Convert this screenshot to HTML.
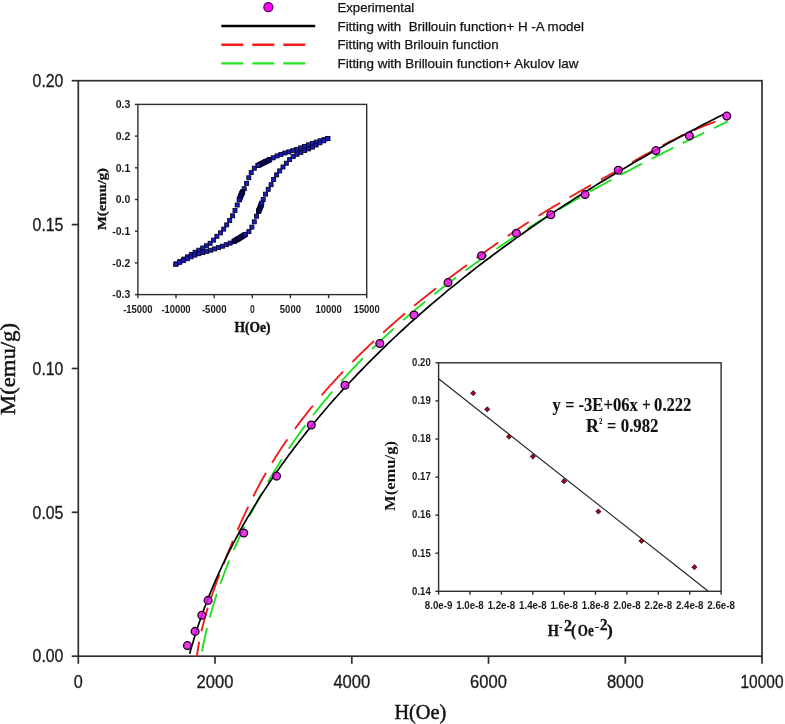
<!DOCTYPE html><html><head><meta charset="utf-8"><title>M vs H</title><style>html,body{margin:0;padding:0;background:#fff;}svg{display:block;}</style></head><body>
<svg width="785" height="724" viewBox="0 0 785 724">
<rect width="785" height="724" fill="#fff"/>
<g font-family="'Liberation Sans', Arial, sans-serif" font-size="13.3" fill="#111" stroke="#111" stroke-width="0.25">
<circle cx="268.4" cy="7.2" r="4.6" fill="#f0f" stroke="#400040" stroke-width="1.1"/>
<line x1="221.3" y1="26" x2="315.2" y2="26" stroke="#000" stroke-width="2.4"/>
<line x1="221.3" y1="44.7" x2="306" y2="44.7" stroke="#f21c1c" stroke-width="2.4" stroke-dasharray="22 9"/>
<line x1="221.3" y1="63.4" x2="306" y2="63.4" stroke="#22e622" stroke-width="2.4" stroke-dasharray="22 9"/>
<text x="337.5" y="12.2" textLength="76.7" lengthAdjust="spacingAndGlyphs" xml:space="preserve">Experimental</text>
<text x="337.5" y="30.5" textLength="246.4" lengthAdjust="spacingAndGlyphs" xml:space="preserve">Fitting with  Brillouin function+ H -A model</text>
<text x="337.5" y="49.4" textLength="161.1" lengthAdjust="spacingAndGlyphs" xml:space="preserve">Fitting with Brilouin function</text>
<text x="337.5" y="67.9" textLength="240.9" lengthAdjust="spacingAndGlyphs" xml:space="preserve">Fitting with Brillouin function+ Akulov law</text>
</g>
<g stroke="#2e2e2e" stroke-width="1.7" fill="none">
<rect x="78.3" y="80.7" width="683.7" height="575.5"/>
<line x1="78.3" y1="656.2" x2="78.3" y2="663.8000000000001"/>
<line x1="215.0" y1="656.2" x2="215.0" y2="663.8000000000001"/>
<line x1="351.8" y1="656.2" x2="351.8" y2="663.8000000000001"/>
<line x1="488.5" y1="656.2" x2="488.5" y2="663.8000000000001"/>
<line x1="625.3" y1="656.2" x2="625.3" y2="663.8000000000001"/>
<line x1="762.0" y1="656.2" x2="762.0" y2="663.8000000000001"/>
<line x1="71.7" y1="656.2" x2="78.3" y2="656.2"/>
<line x1="71.7" y1="512.3" x2="78.3" y2="512.3"/>
<line x1="71.7" y1="368.5" x2="78.3" y2="368.5"/>
<line x1="71.7" y1="224.6" x2="78.3" y2="224.6"/>
<line x1="71.7" y1="80.7" x2="78.3" y2="80.7"/>
</g>
<g font-family="'Liberation Sans', Arial, sans-serif" font-size="17.5" fill="#1a1a1a" stroke="#1a1a1a" stroke-width="0.3" text-anchor="middle">
<text x="78.3" y="687.8" textLength="9.0" lengthAdjust="spacingAndGlyphs">0</text>
<text x="215.0" y="687.8" textLength="36.8" lengthAdjust="spacingAndGlyphs">2000</text>
<text x="351.8" y="687.8" textLength="36.8" lengthAdjust="spacingAndGlyphs">4000</text>
<text x="488.5" y="687.8" textLength="36.8" lengthAdjust="spacingAndGlyphs">6000</text>
<text x="625.3" y="687.8" textLength="36.8" lengthAdjust="spacingAndGlyphs">8000</text>
<text x="762.0" y="687.8" textLength="43.0" lengthAdjust="spacingAndGlyphs">10000</text>
</g>
<g font-family="'Liberation Sans', Arial, sans-serif" font-size="17.5" fill="#1a1a1a" stroke="#1a1a1a" stroke-width="0.3" text-anchor="end">
<text x="63.4" y="662.4" textLength="30.8" lengthAdjust="spacingAndGlyphs">0.00</text>
<text x="63.4" y="518.5" textLength="30.8" lengthAdjust="spacingAndGlyphs">0.05</text>
<text x="63.4" y="374.7" textLength="30.8" lengthAdjust="spacingAndGlyphs">0.10</text>
<text x="63.4" y="230.8" textLength="30.8" lengthAdjust="spacingAndGlyphs">0.15</text>
<text x="63.4" y="86.9" textLength="30.8" lengthAdjust="spacingAndGlyphs">0.20</text>
</g>
<text x="420.4" y="719.3" font-family="'Liberation Serif', 'Times New Roman', serif" font-size="21" fill="#111" stroke="#111" stroke-width="0.45" text-anchor="middle" textLength="52" lengthAdjust="spacingAndGlyphs">H(Oe)</text>
<text transform="translate(15.4,369) rotate(-90)" font-family="'Liberation Serif', 'Times New Roman', serif" font-size="22" fill="#111" stroke="#111" stroke-width="0.45" text-anchor="middle" textLength="92" lengthAdjust="spacingAndGlyphs">M(emu/g)</text>
<path d="M196.8,656.6 L196.9,656.1 L197.0,655.6 L197.0,655.1 L197.1,654.6 L197.2,654.1 L197.2,653.6 L197.3,653.1 L197.4,652.6 L197.4,652.1 L197.5,651.6 L197.6,651.1 L197.7,650.6 L197.7,650.1 L197.8,649.6 L197.9,649.1 L198.0,648.6 L198.1,648.1 L198.1,647.6 L198.2,647.1 L198.3,646.6 L198.4,646.1 L198.5,645.6 L198.6,645.1 L198.7,644.6 L198.7,644.2 L198.8,643.7 L198.9,643.2 L199.0,642.7 L199.1,642.2 L199.2,641.7 M201.4,631.2 L201.6,630.7 L201.7,630.2 L201.8,629.7 L201.9,629.2 L202.0,628.7 L202.1,628.3 L202.3,627.8 L202.4,627.3 L202.5,626.8 L202.6,626.3 L202.8,625.8 L202.9,625.3 L203.0,624.8 L203.1,624.3 L203.3,623.8 L203.4,623.3 L203.5,622.8 L203.7,622.3 L203.8,621.8 L203.9,621.3 L204.1,620.8 L204.2,620.3 L204.3,619.8 L204.5,619.3 L204.6,618.8 L204.7,618.3 L204.9,617.8 L205.0,617.3 L205.2,616.8 L205.3,616.3 L205.4,615.8 L205.6,615.3 L205.7,614.8 L205.9,614.3 L206.0,613.8 L206.2,613.3 L206.3,612.9 L206.4,612.4 L206.6,611.9 L206.7,611.4 L206.9,610.9 L207.0,610.4 L207.2,609.9 L207.3,609.4 L207.5,608.9 L207.6,608.4 L207.8,607.9 M211.2,597.5 L211.3,597.0 L211.5,596.5 L211.7,596.0 L211.8,595.5 L212.0,595.0 L212.2,594.5 L212.3,594.0 L212.5,593.5 L212.7,593.0 L212.8,592.5 L213.0,592.0 L213.2,591.6 L213.4,591.1 L213.5,590.6 L213.7,590.1 L213.9,589.6 L214.1,589.1 L214.2,588.6 L214.4,588.1 L214.6,587.6 L214.8,587.1 L214.9,586.6 L215.1,586.1 L215.3,585.6 L215.5,585.1 L215.7,584.6 L215.8,584.2 L216.0,583.7 L216.2,583.2 L216.4,582.7 L216.6,582.2 L216.7,581.7 L216.9,581.2 L217.1,580.7 L217.3,580.2 L217.5,579.7 L217.7,579.2 L217.8,578.7 L218.0,578.2 L218.2,577.8 L218.4,577.3 L218.6,576.8 L218.8,576.3 L219.0,575.8 L219.1,575.3 L219.3,574.8 L219.5,574.3 M223.5,564.0 L223.7,563.6 L223.9,563.1 L224.1,562.6 L224.3,562.1 L224.5,561.6 L224.7,561.1 L224.9,560.6 L225.1,560.1 L225.3,559.7 L225.5,559.2 L225.7,558.7 L225.9,558.2 L226.1,557.7 L226.2,557.2 L226.4,556.7 L226.6,556.2 L226.8,555.8 L227.0,555.3 L227.2,554.8 L227.4,554.3 L227.6,553.8 L227.8,553.3 L228.0,552.8 L228.2,552.4 L228.4,551.9 L228.6,551.4 L228.8,550.9 L229.0,550.4 L229.2,549.9 L229.4,549.5 L229.6,549.0 L229.8,548.5 L230.0,548.0 L230.2,547.5 L230.4,547.0 L230.6,546.6 L230.8,546.1 L231.0,545.6 L231.2,545.1 L231.4,544.6 L231.6,544.1 L231.8,543.7 L232.0,543.2 L232.2,542.7 L232.4,542.2 L232.6,541.7 L232.8,541.2 L233.0,540.8 M237.5,530.2 L237.7,529.8 L237.9,529.3 L238.1,528.8 L238.3,528.3 L238.5,527.8 L238.7,527.4 L239.0,526.9 L239.2,526.4 L239.4,525.9 L239.6,525.5 L239.8,525.0 L240.0,524.5 L240.2,524.0 L240.4,523.6 L240.6,523.1 L240.8,522.6 L241.1,522.1 L241.3,521.7 L241.5,521.2 L241.7,520.7 L241.9,520.3 L242.1,519.8 L242.3,519.3 L242.5,518.8 L242.8,518.4 L243.0,517.9 L243.2,517.4 L243.4,517.0 L243.6,516.5 L243.8,516.0 L244.1,515.5 L244.3,515.1 L244.5,514.6 L244.7,514.1 L244.9,513.7 L245.1,513.2 L245.4,512.7 L245.6,512.3 L245.8,511.8 L246.0,511.3 L246.2,510.8 L246.5,510.4 L246.7,509.9 L246.9,509.4 L247.1,509.0 L247.3,508.5 L247.6,508.0 L247.8,507.6 L248.0,507.1 L248.2,506.6 M253.2,496.4 L253.5,496.0 L253.7,495.5 L253.9,495.1 L254.2,494.6 L254.4,494.1 L254.7,493.7 L254.9,493.2 L255.1,492.8 L255.4,492.3 L255.6,491.9 L255.8,491.4 L256.1,490.9 L256.3,490.5 L256.5,490.0 L256.8,489.6 L257.0,489.1 L257.3,488.7 L257.5,488.2 L257.8,487.7 L258.0,487.3 L258.2,486.8 L258.5,486.4 L258.7,485.9 L259.0,485.5 L259.2,485.0 L259.5,484.6 L259.7,484.1 L259.9,483.7 L260.2,483.2 L260.4,482.7 L260.7,482.3 L260.9,481.8 L261.2,481.4 L261.4,480.9 L261.7,480.5 L261.9,480.0 L262.2,479.6 L262.4,479.1 L262.7,478.7 L262.9,478.2 L263.2,477.8 L263.4,477.3 L263.7,476.9 L264.0,476.4 L264.2,476.0 L264.5,475.5 L264.7,475.1 L265.0,474.7 L265.2,474.2 L265.5,473.8 L265.7,473.3 L266.0,472.9 M272.1,462.7 L272.4,462.2 L272.6,461.8 L272.9,461.4 L273.2,460.9 L273.4,460.5 L273.7,460.1 L274.0,459.6 L274.3,459.2 L274.5,458.7 L274.8,458.3 L275.1,457.9 L275.4,457.4 L275.6,457.0 L275.9,456.6 L276.2,456.1 L276.5,455.7 L276.8,455.3 L277.0,454.8 L277.3,454.4 L277.6,454.0 L277.9,453.5 L278.2,453.1 L278.4,452.7 L278.7,452.2 L279.0,451.8 L279.3,451.4 L279.6,450.9 L279.8,450.5 L280.1,450.1 L280.4,449.6 L280.7,449.2 L281.0,448.8 L281.3,448.3 L281.6,447.9 L281.8,447.5 L282.1,447.1 L282.4,446.6 L282.7,446.2 L283.0,445.8 L283.3,445.3 L283.6,444.9 L283.9,444.5 L284.2,444.1 L284.4,443.6 L284.7,443.2 L285.0,442.8 L285.3,442.4 L285.6,441.9 L285.9,441.5 L286.2,441.1 L286.5,440.7 L286.8,440.2 L287.1,439.8 L287.4,439.4 M294.9,428.9 L295.2,428.5 L295.5,428.0 L295.8,427.6 L296.1,427.2 L296.4,426.8 L296.7,426.4 L297.1,426.0 L297.4,425.5 L297.7,425.1 L298.0,424.7 L298.3,424.3 L298.6,423.9 L298.9,423.5 L299.2,423.1 L299.5,422.7 L299.9,422.2 L300.2,421.8 L300.5,421.4 L300.8,421.0 L301.1,420.6 L301.4,420.2 L301.7,419.8 L302.1,419.4 L302.4,418.9 L302.7,418.5 L303.0,418.1 L303.3,417.7 L303.6,417.3 L304.0,416.9 L304.3,416.5 L304.6,416.1 L304.9,415.7 L305.2,415.3 L305.6,414.9 L305.9,414.5 L306.2,414.0 L306.5,413.6 L306.8,413.2 L307.2,412.8 L307.5,412.4 L307.8,412.0 L308.1,411.6 L308.5,411.2 L308.8,410.8 L309.1,410.4 L309.4,410.0 L309.8,409.6 L310.1,409.2 L310.4,408.8 L310.7,408.4 L311.1,408.0 L311.4,407.6 L311.7,407.2 L312.0,406.8 L312.4,406.4 L312.7,406.0 L313.0,405.6 M321.7,395.2 L322.0,394.8 L322.4,394.4 L322.7,394.1 L323.1,393.7 L323.4,393.3 L323.7,392.9 L324.1,392.5 L324.4,392.1 L324.8,391.7 L325.1,391.3 L325.4,390.9 L325.8,390.5 L326.1,390.1 L326.5,389.7 L326.8,389.4 L327.2,389.0 L327.5,388.6 L327.8,388.2 L328.2,387.8 L328.5,387.4 L328.9,387.0 L329.2,386.6 L329.6,386.2 L329.9,385.9 L330.3,385.5 L330.6,385.1 L331.0,384.7 L331.3,384.3 L331.7,383.9 L332.0,383.5 L332.4,383.2 L332.7,382.8 L333.1,382.4 L333.4,382.0 L333.8,381.6 L334.1,381.2 L334.5,380.8 L334.8,380.5 L335.2,380.1 L335.5,379.7 L335.9,379.3 L336.2,378.9 L336.6,378.6 L336.9,378.2 L337.3,377.8 L337.6,377.4 L338.0,377.0 L338.3,376.6 L338.7,376.3 L339.0,375.9 L339.4,375.5 L339.8,375.1 L340.1,374.7 L340.5,374.4 L340.8,374.0 L341.2,373.6 L341.5,373.2 L341.9,372.8 L342.3,372.5 L342.6,372.1 L343.0,371.7 M352.4,362.0 L352.7,361.6 L353.1,361.3 L353.5,360.9 L353.8,360.5 L354.2,360.1 L354.6,359.8 L354.9,359.4 L355.3,359.0 L355.7,358.7 L356.0,358.3 L356.4,357.9 L356.8,357.6 L357.2,357.2 L357.5,356.8 L357.9,356.5 L358.3,356.1 L358.6,355.7 L359.0,355.4 L359.4,355.0 L359.7,354.6 L360.1,354.3 L360.5,353.9 L360.9,353.5 L361.2,353.2 L361.6,352.8 L362.0,352.5 L362.4,352.1 L362.7,351.7 L363.1,351.4 L363.5,351.0 L363.8,350.6 L364.2,350.3 L364.6,349.9 L365.0,349.6 L365.3,349.2 L365.7,348.8 L366.1,348.5 L366.5,348.1 L366.8,347.8 L367.2,347.4 L367.6,347.0 L368.0,346.7 L368.3,346.3 L368.7,346.0 L369.1,345.6 L369.5,345.2 L369.9,344.9 L370.2,344.5 L370.6,344.2 L371.0,343.8 L371.4,343.5 L371.7,343.1 L372.1,342.7 L372.5,342.4 L372.9,342.0 L373.3,341.7 L373.6,341.3 L374.0,341.0 M383.2,332.5 L383.6,332.2 L384.0,331.8 L384.4,331.5 L384.8,331.1 L385.1,330.8 L385.5,330.4 L385.9,330.1 L386.3,329.7 L386.7,329.4 L387.1,329.0 L387.5,328.7 L387.9,328.4 L388.2,328.0 L388.6,327.7 L389.0,327.3 L389.4,327.0 L389.8,326.6 L390.2,326.3 L390.6,325.9 L391.0,325.6 L391.4,325.3 L391.7,324.9 L392.1,324.6 L392.5,324.2 L392.9,323.9 L393.3,323.5 L393.7,323.2 L394.1,322.9 L394.5,322.5 L394.9,322.2 L395.3,321.8 L395.7,321.5 L396.0,321.2 L396.4,320.8 L396.8,320.5 L397.2,320.1 L397.6,319.8 L398.0,319.5 L398.4,319.1 L398.8,318.8 L399.2,318.4 L399.6,318.1 L400.0,317.8 L400.4,317.4 L400.8,317.1 L401.2,316.8 L401.5,316.4 L401.9,316.1 L402.3,315.7 L402.7,315.4 L403.1,315.1 L403.5,314.7 L403.9,314.4 L404.3,314.1 L404.7,313.7 L405.1,313.4 M414.2,305.8 L414.6,305.4 L415.0,305.1 L415.4,304.8 L415.8,304.5 L416.2,304.1 L416.6,303.8 L417.0,303.5 L417.4,303.1 L417.8,302.8 L418.2,302.5 L418.6,302.2 L419.0,301.8 L419.4,301.5 L419.8,301.2 L420.2,300.9 L420.6,300.5 L421.0,300.2 L421.4,299.9 L421.9,299.6 L422.3,299.2 L422.7,298.9 L423.1,298.6 L423.5,298.3 L423.9,297.9 L424.3,297.6 L424.7,297.3 L425.1,297.0 L425.5,296.7 L425.9,296.3 L426.3,296.0 L426.7,295.7 L427.1,295.4 L427.5,295.0 L427.9,294.7 L428.3,294.4 L428.7,294.1 L429.1,293.8 L429.5,293.4 L429.9,293.1 L430.3,292.8 L430.7,292.5 L431.1,292.2 L431.5,291.8 L432.0,291.5 L432.4,291.2 L432.8,290.9 L433.2,290.6 L433.6,290.2 L434.0,289.9 L434.4,289.6 L434.8,289.3 L435.2,289.0 L435.6,288.6 L436.0,288.3 M445.4,281.1 L445.8,280.8 L446.2,280.4 L446.7,280.1 L447.1,279.8 L447.5,279.5 L447.9,279.2 L448.3,278.9 L448.7,278.6 L449.1,278.3 L449.5,277.9 L449.9,277.6 L450.4,277.3 L450.8,277.0 L451.2,276.7 L451.6,276.4 L452.0,276.1 L452.4,275.8 L452.8,275.4 L453.3,275.1 L453.7,274.8 L454.1,274.5 L454.5,274.2 L454.9,273.9 L455.3,273.6 L455.7,273.3 L456.1,273.0 L456.6,272.7 L457.0,272.3 L457.4,272.0 L457.8,271.7 L458.2,271.4 L458.6,271.1 L459.1,270.8 L459.5,270.5 L459.9,270.2 L460.3,269.9 L460.7,269.6 L461.1,269.3 L461.5,268.9 L462.0,268.6 L462.4,268.3 L462.8,268.0 L463.2,267.7 L463.6,267.4 L464.0,267.1 L464.5,266.8 L464.9,266.5 L465.3,266.2 L465.7,265.9 L466.1,265.6 L466.5,265.3 L467.0,264.9 M476.6,257.9 L477.0,257.6 L477.5,257.3 L477.9,257.0 L478.3,256.7 L478.7,256.4 L479.1,256.1 L479.6,255.8 L480.0,255.5 L480.4,255.2 L480.8,254.9 L481.3,254.6 L481.7,254.3 L482.1,254.0 L482.5,253.7 L482.9,253.4 L483.4,253.1 L483.8,252.7 L484.2,252.4 L484.6,252.1 L485.1,251.8 L485.5,251.5 L485.9,251.2 L486.3,250.9 L486.8,250.6 L487.2,250.3 L487.6,250.0 L488.0,249.7 L488.5,249.4 L488.9,249.1 L489.3,248.8 L489.7,248.5 L490.1,248.2 L490.6,247.9 L491.0,247.6 L491.4,247.3 L491.9,247.0 L492.3,246.7 L492.7,246.4 L493.1,246.1 L493.6,245.8 L494.0,245.5 L494.4,245.2 L494.8,244.9 L495.3,244.6 L495.7,244.3 L496.1,244.0 L496.5,243.7 L497.0,243.4 L497.4,243.1 L497.8,242.8 L498.2,242.5 M507.7,236.0 L508.1,235.7 L508.5,235.4 L509.0,235.1 L509.4,234.8 L509.8,234.5 L510.3,234.3 L510.7,234.0 L511.1,233.7 L511.6,233.4 L512.0,233.1 L512.4,232.8 L512.9,232.5 L513.3,232.2 L513.7,231.9 L514.2,231.6 L514.6,231.3 L515.0,231.0 L515.4,230.8 L515.9,230.5 L516.3,230.2 L516.7,229.9 L517.2,229.6 L517.6,229.3 L518.0,229.0 L518.5,228.7 L518.9,228.4 L519.3,228.2 L519.8,227.9 L520.2,227.6 L520.6,227.3 L521.1,227.0 L521.5,226.7 L521.9,226.4 L522.4,226.2 L522.8,225.9 L523.2,225.6 L523.7,225.3 L524.1,225.0 L524.6,224.7 L525.0,224.4 L525.4,224.2 L525.9,223.9 L526.3,223.6 L526.7,223.3 L527.2,223.0 L527.6,222.8 L528.0,222.5 L528.5,222.2 L528.9,221.9 M538.5,215.8 L539.0,215.5 L539.4,215.3 L539.8,215.0 L540.3,214.7 L540.7,214.4 L541.2,214.2 L541.6,213.9 L542.0,213.6 L542.5,213.3 L542.9,213.1 L543.4,212.8 L543.8,212.5 L544.2,212.3 L544.7,212.0 L545.1,211.7 L545.6,211.5 L546.0,211.2 L546.4,210.9 L546.9,210.7 L547.3,210.4 L547.8,210.1 L548.2,209.9 L548.6,209.6 L549.1,209.3 L549.5,209.1 L550.0,208.8 L550.4,208.5 L550.8,208.3 L551.3,208.0 L551.7,207.7 L552.2,207.5 L552.6,207.2 L553.0,206.9 L553.5,206.7 L553.9,206.4 L554.4,206.1 L554.8,205.9 L555.3,205.6 L555.7,205.4 L556.1,205.1 L556.6,204.8 L557.0,204.6 L557.5,204.3 L557.9,204.0 L558.4,203.8 L558.8,203.5 L559.2,203.3 L559.7,203.0 L560.1,202.7 M569.5,197.3 L569.9,197.1 L570.4,196.8 L570.8,196.6 L571.3,196.3 L571.7,196.1 L572.1,195.8 L572.6,195.5 L573.0,195.3 L573.5,195.0 L573.9,194.8 L574.4,194.5 L574.8,194.3 L575.3,194.0 L575.7,193.8 L576.2,193.5 L576.6,193.3 L577.1,193.0 L577.5,192.7 L578.0,192.5 L578.4,192.2 L578.9,192.0 L579.3,191.7 L579.8,191.5 L580.2,191.2 L580.6,191.0 L581.1,190.7 L581.5,190.5 L582.0,190.2 L582.4,190.0 L582.9,189.7 L583.3,189.5 L583.8,189.2 L584.2,189.0 L584.7,188.7 L585.1,188.4 L585.6,188.2 L586.0,187.9 L586.5,187.7 L586.9,187.4 L587.4,187.2 L587.8,186.9 L588.3,186.7 L588.7,186.4 L589.2,186.2 L589.6,185.9 L590.1,185.7 L590.5,185.4 L591.0,185.2 M600.9,179.6 L601.4,179.4 L601.8,179.1 L602.3,178.9 L602.7,178.6 L603.2,178.4 L603.6,178.1 L604.1,177.9 L604.5,177.6 L605.0,177.4 L605.4,177.1 L605.9,176.9 L606.3,176.6 L606.8,176.4 L607.3,176.1 L607.7,175.9 L608.2,175.6 L608.6,175.3 L609.1,175.1 L609.5,174.8 L610.0,174.6 L610.4,174.3 L610.9,174.1 L611.3,173.8 L611.8,173.6 L612.3,173.3 L612.7,173.1 L613.2,172.8 L613.6,172.6 L614.1,172.3 L614.5,172.1 L615.0,171.8 L615.4,171.5 L615.9,171.3 L616.3,171.0 L616.8,170.8 L617.3,170.5 L617.7,170.3 L618.2,170.0 L618.6,169.8 L619.1,169.5 L619.5,169.2 L620.0,169.0 L620.4,168.7 L620.9,168.5 L621.4,168.2 L621.8,168.0 L622.3,167.7 M631.9,162.3 L632.3,162.0 L632.8,161.8 L633.3,161.5 L633.7,161.3 L634.2,161.0 L634.6,160.8 L635.1,160.5 L635.5,160.2 L636.0,160.0 L636.5,159.7 L636.9,159.5 L637.4,159.2 L637.8,159.0 L638.3,158.7 L638.8,158.4 L639.2,158.2 L639.7,157.9 L640.1,157.7 L640.6,157.4 L641.1,157.2 L641.5,156.9 L642.0,156.6 L642.4,156.4 L642.9,156.1 L643.4,155.9 L643.8,155.6 L644.3,155.4 L644.7,155.1 L645.2,154.8 L645.7,154.6 L646.1,154.3 L646.6,154.1 L647.0,153.8 L647.5,153.6 L648.0,153.3 L648.4,153.1 L648.9,152.8 L649.3,152.6 L649.8,152.3 L650.3,152.1 L650.7,151.8 L651.2,151.5 L651.7,151.3 L652.1,151.0 L652.6,150.8 L653.0,150.5 L653.5,150.3 M662.7,145.3 L663.2,145.1 L663.7,144.8 L664.1,144.6 L664.6,144.4 L665.1,144.1 L665.5,143.9 L666.0,143.6 L666.5,143.4 L666.9,143.2 L667.4,142.9 L667.8,142.7 L668.3,142.4 L668.8,142.2 L669.2,142.0 L669.7,141.7 L670.2,141.5 L670.6,141.2 L671.1,141.0 L671.6,140.8 L672.0,140.5 L672.5,140.3 L673.0,140.1 L673.4,139.8 L673.9,139.6 L674.3,139.4 L674.8,139.1 L675.3,138.9 L675.7,138.7 L676.2,138.4 L676.7,138.2 L677.1,138.0 L677.6,137.8 L678.1,137.5 L678.5,137.3 L679.0,137.1 L679.5,136.8 L679.9,136.6 L680.4,136.4 L680.9,136.2 L681.3,135.9 L681.8,135.7 L682.3,135.5 L682.7,135.3 L683.2,135.1 L683.7,134.8 L684.1,134.6 M693.9,130.2 L694.4,130.0 L694.9,129.8 L695.3,129.5 L695.8,129.3 L696.3,129.1 L696.7,128.9 L697.2,128.7 L697.7,128.5 L698.1,128.4 L698.6,128.2 L699.1,128.0 L699.5,127.8 L700.0,127.6 L700.5,127.4 L700.9,127.2 L701.4,127.0 L701.9,126.8 L702.4,126.6 L702.8,126.4 L703.3,126.2 L703.8,126.0 L704.2,125.9 L704.7,125.7 L705.2,125.5 L705.6,125.3 L706.1,125.1 L706.6,124.9 L707.0,124.8 L707.5,124.6 L708.0,124.4 L708.5,124.2 L708.9,124.0 L709.4,123.9 L709.9,123.7 L710.3,123.5 L710.8,123.4 L711.3,123.2 L711.7,123.0 L712.2,122.8 L712.7,122.7 L713.1,122.5 L713.6,122.3 L714.1,122.2 L714.6,122.0 L715.0,121.8 L715.5,121.7" fill="none" stroke="#ee1c1c" stroke-width="1.9"/>
<path d="M202.1,651.4 L202.1,650.9 L202.2,650.4 L202.3,649.9 L202.4,649.4 L202.5,648.9 L202.6,648.3 L202.7,647.8 L202.8,647.3 L202.9,646.8 L203.0,646.3 L203.1,645.8 L203.2,645.3 L203.3,644.8 L203.4,644.3 L203.5,643.7 L203.6,643.2 L203.7,642.7 L203.8,642.2 L203.9,641.7 L204.0,641.2 L204.1,640.7 L204.2,640.2 L204.3,639.7 L204.4,639.1 L204.6,638.6 L204.7,638.1 L204.8,637.6 L204.9,637.1 L205.0,636.6 L205.1,636.1 L205.2,635.6 L205.3,635.1 L205.4,634.6 L205.6,634.1 L205.7,633.6 L205.8,633.0 L205.9,632.5 L206.0,632.0 L206.1,631.5 L206.3,631.0 L206.4,630.5 L206.5,630.0 L206.6,629.5 L206.7,629.0 L206.9,628.5 L207.0,628.0 M209.7,617.4 L209.9,616.9 L210.0,616.4 L210.1,615.9 L210.3,615.3 L210.4,614.8 L210.6,614.3 L210.7,613.8 L210.9,613.3 L211.0,612.8 L211.1,612.3 L211.3,611.8 L211.4,611.3 L211.6,610.8 L211.7,610.3 L211.9,609.8 L212.0,609.3 L212.2,608.8 L212.3,608.3 L212.5,607.8 L212.6,607.3 L212.8,606.8 L212.9,606.3 L213.1,605.8 L213.2,605.3 L213.4,604.8 L213.5,604.3 L213.7,603.8 L213.8,603.3 L214.0,602.8 L214.1,602.3 L214.3,601.8 L214.4,601.3 L214.6,600.8 L214.8,600.3 L214.9,599.8 L215.1,599.3 L215.2,598.8 L215.4,598.3 L215.6,597.8 L215.7,597.3 L215.9,596.8 L216.0,596.3 L216.2,595.9 L216.4,595.4 L216.5,594.9 L216.7,594.4 L216.9,593.9 M220.3,584.0 L220.5,583.5 L220.6,583.0 L220.8,582.5 L221.0,582.0 L221.2,581.5 L221.3,581.0 L221.5,580.5 L221.7,580.0 L221.9,579.5 L222.1,579.1 L222.2,578.6 L222.4,578.1 L222.6,577.6 L222.8,577.1 L223.0,576.6 L223.2,576.1 L223.3,575.6 L223.5,575.1 L223.7,574.6 L223.9,574.1 L224.1,573.7 L224.3,573.2 L224.5,572.7 L224.6,572.2 L224.8,571.7 L225.0,571.2 L225.2,570.7 L225.4,570.2 L225.6,569.7 L225.8,569.3 L226.0,568.8 L226.2,568.3 L226.4,567.8 L226.5,567.3 L226.7,566.8 L226.9,566.3 L227.1,565.8 L227.3,565.4 L227.5,564.9 L227.7,564.4 L227.9,563.9 L228.1,563.4 L228.3,562.9 L228.5,562.4 L228.7,562.0 L228.9,561.5 L229.1,561.0 L229.3,560.5 M233.8,549.9 L234.0,549.4 L234.2,548.9 L234.4,548.4 L234.6,548.0 L234.8,547.5 L235.0,547.0 L235.2,546.5 L235.4,546.1 L235.7,545.6 L235.9,545.1 L236.1,544.6 L236.3,544.1 L236.5,543.7 L236.7,543.2 L236.9,542.7 L237.1,542.2 L237.4,541.7 L237.6,541.3 L237.8,540.8 L238.0,540.3 L238.2,539.8 L238.4,539.4 L238.7,538.9 L238.9,538.4 L239.1,537.9 L239.3,537.5 L239.5,537.0 L239.7,536.5 L240.0,536.0 L240.2,535.6 L240.4,535.1 L240.6,534.6 L240.8,534.1 L241.1,533.7 L241.3,533.2 L241.5,532.7 L241.7,532.2 L241.9,531.8 L242.2,531.3 L242.4,530.8 L242.6,530.3 L242.8,529.9 L243.1,529.4 L243.3,528.9 L243.5,528.5 L243.7,528.0 L244.0,527.5 L244.2,527.0 L244.4,526.6 M249.5,516.3 L249.7,515.8 L249.9,515.3 L250.2,514.9 L250.4,514.4 L250.6,513.9 L250.9,513.5 L251.1,513.0 L251.4,512.5 L251.6,512.1 L251.8,511.6 L252.1,511.1 L252.3,510.7 L252.5,510.2 L252.8,509.7 L253.0,509.3 L253.3,508.8 L253.5,508.4 L253.7,507.9 L254.0,507.4 L254.2,507.0 L254.5,506.5 L254.7,506.0 L254.9,505.6 L255.2,505.1 L255.4,504.7 L255.7,504.2 L255.9,503.7 L256.2,503.3 L256.4,502.8 L256.7,502.4 L256.9,501.9 L257.1,501.4 L257.4,501.0 L257.6,500.5 L257.9,500.1 L258.1,499.6 L258.4,499.1 L258.6,498.7 L258.9,498.2 L259.1,497.8 L259.4,497.3 L259.6,496.9 L259.9,496.4 L260.1,495.9 L260.4,495.5 L260.6,495.0 L260.9,494.6 L261.1,494.1 L261.4,493.7 L261.6,493.2 L261.9,492.7 M267.8,482.3 L268.1,481.9 L268.3,481.4 L268.6,481.0 L268.8,480.5 L269.1,480.1 L269.4,479.6 L269.6,479.2 L269.9,478.7 L270.2,478.3 L270.4,477.8 L270.7,477.4 L271.0,476.9 L271.2,476.5 L271.5,476.0 L271.8,475.6 L272.0,475.1 L272.3,474.7 L272.6,474.3 L272.8,473.8 L273.1,473.4 L273.4,472.9 L273.6,472.5 L273.9,472.0 L274.2,471.6 L274.5,471.1 L274.7,470.7 L275.0,470.2 L275.3,469.8 L275.5,469.4 L275.8,468.9 L276.1,468.5 L276.4,468.0 L276.6,467.6 L276.9,467.1 L277.2,466.7 L277.5,466.3 L277.7,465.8 L278.0,465.4 L278.3,464.9 L278.6,464.5 L278.8,464.1 L279.1,463.6 L279.4,463.2 L279.7,462.7 L279.9,462.3 L280.2,461.9 L280.5,461.4 L280.8,461.0 L281.1,460.5 L281.3,460.1 L281.6,459.7 L281.9,459.2 M288.8,448.8 L289.1,448.3 L289.3,447.9 L289.6,447.5 L289.9,447.1 L290.2,446.6 L290.5,446.2 L290.8,445.8 L291.1,445.3 L291.4,444.9 L291.7,444.5 L292.0,444.0 L292.3,443.6 L292.6,443.2 L292.9,442.8 L293.2,442.3 L293.5,441.9 L293.8,441.5 L294.1,441.0 L294.4,440.6 L294.6,440.2 L294.9,439.8 L295.2,439.3 L295.5,438.9 L295.8,438.5 L296.1,438.1 L296.4,437.6 L296.7,437.2 L297.0,436.8 L297.3,436.4 L297.6,435.9 L297.9,435.5 L298.3,435.1 L298.6,434.7 L298.9,434.2 L299.2,433.8 L299.5,433.4 L299.8,433.0 L300.1,432.5 L300.4,432.1 L300.7,431.7 L301.0,431.3 L301.3,430.9 L301.6,430.4 L301.9,430.0 L302.2,429.6 L302.5,429.2 L302.8,428.7 L303.1,428.3 L303.4,427.9 L303.8,427.5 L304.1,427.1 L304.4,426.7 L304.7,426.2 L305.0,425.8 L305.3,425.4 M313.2,415.0 L313.5,414.6 L313.8,414.2 L314.2,413.8 L314.5,413.4 L314.8,413.0 L315.1,412.6 L315.4,412.1 L315.8,411.7 L316.1,411.3 L316.4,410.9 L316.7,410.5 L317.1,410.1 L317.4,409.7 L317.7,409.3 L318.0,408.9 L318.4,408.5 L318.7,408.1 L319.0,407.7 L319.3,407.3 L319.7,406.8 L320.0,406.4 L320.3,406.0 L320.6,405.6 L321.0,405.2 L321.3,404.8 L321.6,404.4 L322.0,404.0 L322.3,403.6 L322.6,403.2 L322.9,402.8 L323.3,402.4 L323.6,402.0 L323.9,401.6 L324.3,401.2 L324.6,400.8 L324.9,400.4 L325.3,400.0 L325.6,399.6 L325.9,399.2 L326.3,398.8 L326.6,398.4 L326.9,398.0 L327.3,397.6 L327.6,397.2 L327.9,396.8 L328.3,396.4 L328.6,396.0 L328.9,395.6 L329.3,395.2 L329.6,394.8 L330.0,394.4 L330.3,394.0 L330.6,393.6 L331.0,393.2 L331.3,392.8 L331.6,392.4 L332.0,392.0 L332.3,391.6 M341.3,381.4 L341.6,381.0 L341.9,380.6 L342.3,380.2 L342.6,379.8 L343.0,379.4 L343.3,379.1 L343.7,378.7 L344.0,378.3 L344.4,377.9 L344.7,377.5 L345.1,377.1 L345.4,376.7 L345.8,376.3 L346.1,376.0 L346.5,375.6 L346.9,375.2 L347.2,374.8 L347.6,374.4 L347.9,374.0 L348.3,373.7 L348.6,373.3 L349.0,372.9 L349.3,372.5 L349.7,372.1 L350.0,371.7 L350.4,371.4 L350.7,371.0 L351.1,370.6 L351.5,370.2 L351.8,369.8 L352.2,369.4 L352.5,369.1 L352.9,368.7 L353.2,368.3 L353.6,367.9 L354.0,367.5 L354.3,367.2 L354.7,366.8 L355.0,366.4 L355.4,366.0 L355.8,365.7 L356.1,365.3 L356.5,364.9 L356.8,364.5 L357.2,364.1 L357.6,363.8 L357.9,363.4 L358.3,363.0 L358.6,362.6 L359.0,362.3 L359.4,361.9 L359.7,361.5 L360.1,361.1 L360.5,360.8 L360.8,360.4 L361.2,360.0 L361.5,359.6 L361.9,359.3 L362.3,358.9 L362.6,358.5 L363.0,358.1 M372.2,348.9 L372.6,348.6 L373.0,348.2 L373.3,347.8 L373.7,347.5 L374.1,347.1 L374.5,346.7 L374.8,346.4 L375.2,346.0 L375.6,345.6 L376.0,345.3 L376.3,344.9 L376.7,344.5 L377.1,344.2 L377.5,343.8 L377.8,343.5 L378.2,343.1 L378.6,342.7 L379.0,342.4 L379.3,342.0 L379.7,341.7 L380.1,341.3 L380.5,340.9 L380.9,340.6 L381.2,340.2 L381.6,339.9 L382.0,339.5 L382.4,339.1 L382.8,338.8 L383.1,338.4 L383.5,338.1 L383.9,337.7 L384.3,337.4 L384.7,337.0 L385.0,336.6 L385.4,336.3 L385.8,335.9 L386.2,335.6 L386.6,335.2 L386.9,334.9 L387.3,334.5 L387.7,334.1 L388.1,333.8 L388.5,333.4 L388.9,333.1 L389.2,332.7 L389.6,332.4 L390.0,332.0 L390.4,331.7 L390.8,331.3 L391.2,331.0 L391.5,330.6 L391.9,330.3 L392.3,329.9 L392.7,329.6 L393.1,329.2 L393.5,328.9 L393.9,328.5 M403.2,320.2 L403.6,319.8 L404.0,319.5 L404.4,319.1 L404.8,318.8 L405.2,318.5 L405.6,318.1 L406.0,317.8 L406.4,317.4 L406.7,317.1 L407.1,316.7 L407.5,316.4 L407.9,316.1 L408.3,315.7 L408.7,315.4 L409.1,315.0 L409.5,314.7 L409.9,314.4 L410.3,314.0 L410.7,313.7 L411.1,313.3 L411.5,313.0 L411.9,312.7 L412.3,312.3 L412.7,312.0 L413.1,311.6 L413.5,311.3 L413.9,311.0 L414.3,310.6 L414.7,310.3 L415.1,310.0 L415.5,309.6 L415.9,309.3 L416.3,308.9 L416.7,308.6 L417.1,308.3 L417.5,307.9 L417.9,307.6 L418.3,307.3 L418.7,306.9 L419.1,306.6 L419.5,306.3 L419.9,305.9 L420.3,305.6 L420.7,305.3 L421.1,304.9 L421.5,304.6 L421.9,304.3 L422.3,303.9 L422.7,303.6 L423.1,303.3 L423.5,302.9 L423.9,302.6 L424.3,302.3 L424.7,301.9 L425.1,301.6 M434.4,294.1 L434.9,293.8 L435.3,293.4 L435.7,293.1 L436.1,292.8 L436.5,292.5 L436.9,292.1 L437.3,291.8 L437.7,291.5 L438.1,291.2 L438.5,290.8 L439.0,290.5 L439.4,290.2 L439.8,289.9 L440.2,289.6 L440.6,289.2 L441.0,288.9 L441.4,288.6 L441.8,288.3 L442.2,288.0 L442.7,287.6 L443.1,287.3 L443.5,287.0 L443.9,286.7 L444.3,286.4 L444.7,286.0 L445.1,285.7 L445.5,285.4 L446.0,285.1 L446.4,284.8 L446.8,284.4 L447.2,284.1 L447.6,283.8 L448.0,283.5 L448.4,283.2 L448.9,282.9 L449.3,282.5 L449.7,282.2 L450.1,281.9 L450.5,281.6 L450.9,281.3 L451.3,281.0 L451.8,280.6 L452.2,280.3 L452.6,280.0 L453.0,279.7 L453.4,279.4 L453.8,279.1 L454.3,278.8 L454.7,278.5 L455.1,278.1 L455.5,277.8 L455.9,277.5 M465.6,270.4 L466.0,270.1 L466.4,269.8 L466.8,269.5 L467.3,269.2 L467.7,268.9 L468.1,268.5 L468.5,268.2 L469.0,267.9 L469.4,267.6 L469.8,267.3 L470.2,267.0 L470.6,266.7 L471.1,266.4 L471.5,266.1 L471.9,265.8 L472.3,265.5 L472.8,265.2 L473.2,264.9 L473.6,264.6 L474.0,264.3 L474.5,264.0 L474.9,263.7 L475.3,263.4 L475.7,263.1 L476.2,262.8 L476.6,262.5 L477.0,262.2 L477.4,261.9 L477.9,261.6 L478.3,261.3 L478.7,261.0 L479.1,260.7 L479.6,260.4 L480.0,260.1 L480.4,259.8 L480.9,259.5 L481.3,259.2 L481.7,258.9 L482.1,258.6 L482.6,258.3 L483.0,258.0 L483.4,257.7 L483.8,257.4 L484.3,257.1 L484.7,256.8 L485.1,256.5 L485.6,256.2 L486.0,255.9 L486.4,255.6 L486.8,255.3 M496.3,248.8 L496.8,248.5 L497.2,248.2 L497.6,248.0 L498.1,247.7 L498.5,247.4 L498.9,247.1 L499.4,246.8 L499.8,246.5 L500.2,246.2 L500.7,245.9 L501.1,245.6 L501.5,245.3 L502.0,245.1 L502.4,244.8 L502.8,244.5 L503.3,244.2 L503.7,243.9 L504.1,243.6 L504.6,243.3 L505.0,243.0 L505.4,242.7 L505.9,242.5 L506.3,242.2 L506.7,241.9 L507.2,241.6 L507.6,241.3 L508.1,241.0 L508.5,240.7 L508.9,240.4 L509.4,240.2 L509.8,239.9 L510.2,239.6 L510.7,239.3 L511.1,239.0 L511.5,238.7 L512.0,238.5 L512.4,238.2 L512.9,237.9 L513.3,237.6 L513.7,237.3 L514.2,237.0 L514.6,236.7 L515.0,236.5 L515.5,236.2 L515.9,235.9 L516.4,235.6 L516.8,235.3 L517.2,235.1 L517.7,234.8 L518.1,234.5 M527.4,228.6 L527.8,228.3 L528.3,228.1 L528.7,227.8 L529.1,227.5 L529.6,227.2 L530.0,226.9 L530.5,226.7 L530.9,226.4 L531.4,226.1 L531.8,225.8 L532.2,225.6 L532.7,225.3 L533.1,225.0 L533.6,224.7 L534.0,224.5 L534.5,224.2 L534.9,223.9 L535.3,223.6 L535.8,223.4 L536.2,223.1 L536.7,222.8 L537.1,222.5 L537.6,222.3 L538.0,222.0 L538.5,221.7 L538.9,221.4 L539.3,221.2 L539.8,220.9 L540.2,220.6 L540.7,220.4 L541.1,220.1 L541.6,219.8 L542.0,219.5 L542.5,219.3 L542.9,219.0 L543.4,218.7 L543.8,218.5 L544.2,218.2 L544.7,217.9 L545.1,217.6 L545.6,217.4 L546.0,217.1 L546.5,216.8 L546.9,216.6 L547.4,216.3 L547.8,216.0 L548.3,215.7 L548.7,215.5 L549.2,215.2 M558.6,209.6 L559.0,209.3 L559.5,209.1 L559.9,208.8 L560.4,208.5 L560.8,208.3 L561.3,208.0 L561.7,207.7 L562.2,207.5 L562.6,207.2 L563.1,206.9 L563.5,206.7 L564.0,206.4 L564.4,206.2 L564.9,205.9 L565.3,205.6 L565.8,205.4 L566.2,205.1 L566.7,204.8 L567.1,204.6 L567.6,204.3 L568.0,204.1 L568.5,203.8 L568.9,203.5 L569.4,203.3 L569.9,203.0 L570.3,202.7 L570.8,202.5 L571.2,202.2 L571.7,202.0 L572.1,201.7 L572.6,201.4 L573.0,201.2 L573.5,200.9 L573.9,200.7 L574.4,200.4 L574.8,200.1 L575.3,199.9 L575.7,199.6 L576.2,199.4 L576.6,199.1 L577.1,198.8 L577.6,198.6 L578.0,198.3 L578.5,198.1 L578.9,197.8 L579.4,197.6 L579.8,197.3 L580.3,197.0 M589.8,191.7 L590.3,191.4 L590.7,191.1 L591.2,190.9 L591.7,190.6 L592.1,190.4 L592.6,190.1 L593.0,189.9 L593.5,189.6 L593.9,189.4 L594.4,189.1 L594.9,188.9 L595.3,188.6 L595.8,188.4 L596.2,188.1 L596.7,187.9 L597.1,187.6 L597.6,187.4 L598.1,187.1 L598.5,186.8 L599.0,186.6 L599.4,186.3 L599.9,186.1 L600.3,185.8 L600.8,185.6 L601.3,185.3 L601.7,185.1 L602.2,184.8 L602.6,184.6 L603.1,184.3 L603.5,184.1 L604.0,183.8 L604.5,183.6 L604.9,183.3 L605.4,183.1 L605.8,182.8 L606.3,182.6 L606.8,182.3 L607.2,182.1 L607.7,181.8 L608.1,181.6 L608.6,181.3 L609.1,181.1 L609.5,180.8 L610.0,180.6 L610.4,180.3 L610.9,180.1 L611.4,179.9 M620.6,174.9 L621.0,174.7 L621.5,174.4 L621.9,174.2 L622.4,173.9 L622.9,173.7 L623.3,173.5 L623.8,173.2 L624.2,173.0 L624.7,172.7 L625.2,172.5 L625.6,172.2 L626.1,172.0 L626.6,171.7 L627.0,171.5 L627.5,171.3 L627.9,171.0 L628.4,170.8 L628.9,170.5 L629.3,170.3 L629.8,170.0 L630.2,169.8 L630.7,169.6 L631.2,169.3 L631.6,169.1 L632.1,168.8 L632.6,168.6 L633.0,168.4 L633.5,168.1 L633.9,167.9 L634.4,167.6 L634.9,167.4 L635.3,167.1 L635.8,166.9 L636.3,166.7 L636.7,166.4 L637.2,166.2 L637.6,165.9 L638.1,165.7 L638.6,165.5 L639.0,165.2 L639.5,165.0 L640.0,164.7 L640.4,164.5 L640.9,164.3 L641.4,164.0 L641.8,163.8 L642.3,163.5 M651.6,158.8 L652.0,158.5 L652.5,158.3 L652.9,158.1 L653.4,157.8 L653.9,157.6 L654.3,157.4 L654.8,157.1 L655.3,156.9 L655.7,156.7 L656.2,156.4 L656.7,156.2 L657.1,155.9 L657.6,155.7 L658.1,155.5 L658.5,155.2 L659.0,155.0 L659.5,154.8 L659.9,154.5 L660.4,154.3 L660.9,154.1 L661.3,153.8 L661.8,153.6 L662.2,153.4 L662.7,153.1 L663.2,152.9 L663.6,152.7 L664.1,152.4 L664.6,152.2 L665.0,152.0 L665.5,151.7 L666.0,151.5 L666.4,151.3 L666.9,151.0 L667.4,150.8 L667.8,150.6 L668.3,150.3 L668.8,150.1 L669.2,149.9 L669.7,149.6 L670.2,149.4 L670.6,149.2 L671.1,148.9 L671.6,148.7 L672.0,148.5 L672.5,148.2 L673.0,148.0 L673.4,147.8 M682.8,143.2 L683.2,142.9 L683.7,142.7 L684.2,142.5 L684.6,142.2 L685.1,142.0 L685.6,141.8 L686.0,141.6 L686.5,141.3 L687.0,141.1 L687.4,140.9 L687.9,140.6 L688.4,140.4 L688.8,140.2 L689.3,140.0 L689.8,139.7 L690.2,139.5 L690.7,139.3 L691.2,139.0 L691.6,138.8 L692.1,138.6 L692.6,138.4 L693.0,138.1 L693.5,137.9 L694.0,137.7 L694.4,137.5 L694.9,137.2 L695.4,137.0 L695.8,136.8 L696.3,136.5 L696.8,136.3 L697.2,136.1 L697.7,135.9 L698.2,135.6 L698.6,135.4 L699.1,135.2 L699.6,135.0 L700.0,134.7 L700.5,134.5 L701.0,134.3 L701.4,134.1 L701.9,133.8 L702.4,133.6 L702.8,133.4 L703.3,133.2 L703.8,132.9 L704.2,132.7 M714.1,128.0 L714.5,127.8 L715.0,127.5 L715.5,127.3 L715.9,127.1 L716.4,126.9 L716.9,126.6 L717.3,126.4 L717.8,126.2 L718.3,126.0 L718.7,125.8 L719.2,125.5 L719.7,125.3 L720.1,125.1 L720.6,124.9 L721.1,124.6 L721.5,124.4 L722.0,124.2 L722.5,124.0 L722.9,123.8 L723.4,123.5 L723.9,123.3 L724.3,123.1 L724.8,122.9 L725.3,122.6 L725.7,122.4 L726.2,122.2 L726.7,122.0 L727.1,121.8 L727.6,121.5" fill="none" stroke="#1ee01e" stroke-width="1.9"/>
<polyline points="189.7,653.7 190.7,649.8 191.8,646.0 193.0,642.2 194.1,638.4 195.3,634.6 196.5,630.8 197.7,627.0 199.0,623.3 200.3,619.5 201.6,615.8 202.9,612.1 204.3,608.3 205.7,604.7 207.1,601.0 208.5,597.3 210.0,593.6 211.5,590.0 213.0,586.4 214.6,582.8 216.1,579.2 217.7,575.6 219.3,572.0 221.0,568.4 222.6,564.9 224.3,561.3 226.0,557.8 227.7,554.3 229.5,550.8 231.3,547.3 233.0,543.8 234.9,540.4 236.7,536.9 238.6,533.5 240.4,530.0 242.3,526.6 244.3,523.2 246.2,519.8 248.2,516.4 250.2,513.1 252.2,509.7 254.2,506.4 256.3,503.1 258.3,499.7 260.4,496.4 262.5,493.1 264.6,489.9 266.8,486.6 268.9,483.3 271.1,480.1 273.3,476.9 275.5,473.6 277.8,470.4 280.0,467.2 282.3,464.1 284.6,460.9 286.9,457.7 289.2,454.6 291.6,451.4 293.9,448.3 296.3,445.2 298.7,442.1 301.1,439.0 303.5,435.9 305.9,432.9 308.4,429.8 310.9,426.8 313.3,423.7 315.8,420.7 318.4,417.7 320.9,414.7 323.4,411.7 326.0,408.7 328.5,405.8 331.1,402.8 333.7,399.9 336.3,397.0 339.0,394.0 341.6,391.1 344.2,388.2 346.9,385.4 349.6,382.5 352.3,379.6 355.0,376.8 357.7,373.9 360.4,371.1 363.1,368.3 365.9,365.5 368.6,362.7 371.4,359.9 374.2,357.1 377.0,354.4 379.8,351.6 382.6,348.9 385.4,346.1 388.2,343.4 391.1,340.7 393.9,338.0 396.8,335.3 399.6,332.6 402.5,330.0 405.4,327.3 408.3,324.7 411.2,322.0 414.2,319.4 417.1,316.8 420.0,314.2 423.0,311.6 425.9,309.0 428.9,306.5 431.9,303.9 434.9,301.3 437.9,298.8 440.9,296.3 443.9,293.8 446.9,291.2 450.0,288.7 453.0,286.3 456.1,283.8 459.1,281.3 462.2,278.8 465.3,276.4 468.3,274.0 471.4,271.5 474.5,269.1 477.6,266.7 480.8,264.3 483.9,261.9 487.0,259.5 490.2,257.2 493.3,254.8 496.5,252.5 499.6,250.1 502.8,247.8 506.0,245.5 509.2,243.2 512.3,240.9 515.5,238.6 518.7,236.3 522.0,234.0 525.2,231.8 528.4,229.5 531.6,227.3 534.9,225.0 538.1,222.8 541.4,220.6 544.6,218.4 547.9,216.2 551.1,214.0 554.4,211.8 557.7,209.6 561.0,207.5 564.3,205.3 567.6,203.2 570.9,201.1 574.2,198.9 577.5,196.8 580.8,194.7 584.1,192.6 587.5,190.5 590.8,188.5 594.1,186.4 597.5,184.3 600.8,182.3 604.2,180.2 607.5,178.2 610.9,176.2 614.2,174.2 617.6,172.2 621.0,170.2 624.4,168.2 627.7,166.2 631.1,164.2 634.5,162.3 637.9,160.3 641.3,158.4 644.7,156.4 648.1,154.5 651.5,152.6 654.9,150.7 658.3,148.8 661.8,146.9 665.2,145.0 668.6,143.1 672.0,141.3 675.4,139.4 678.9,137.5 682.3,135.7 685.7,133.9 689.2,132.0 692.6,130.2 696.1,128.4 699.5,126.6 702.9,124.8 706.4,123.0 709.8,121.2 713.3,119.5 716.7,117.7 720.2,116.0 723.7,114.2" fill="none" stroke="#000" stroke-width="1.7"/>
<circle cx="187.4" cy="645.6" r="3.9" fill="#e414e4" fill-opacity="0.85" stroke="#220022" stroke-width="1.3"/>
<circle cx="195.1" cy="631.4" r="3.9" fill="#e414e4" fill-opacity="0.85" stroke="#220022" stroke-width="1.3"/>
<circle cx="201.8" cy="615.2" r="3.9" fill="#e414e4" fill-opacity="0.85" stroke="#220022" stroke-width="1.3"/>
<circle cx="208.1" cy="600.4" r="3.9" fill="#e414e4" fill-opacity="0.85" stroke="#220022" stroke-width="1.3"/>
<circle cx="243.7" cy="533" r="3.9" fill="#e414e4" fill-opacity="0.85" stroke="#220022" stroke-width="1.3"/>
<circle cx="276.6" cy="476.1" r="3.9" fill="#e414e4" fill-opacity="0.85" stroke="#220022" stroke-width="1.3"/>
<circle cx="311.3" cy="425" r="3.9" fill="#e414e4" fill-opacity="0.85" stroke="#220022" stroke-width="1.3"/>
<circle cx="345" cy="385.2" r="3.9" fill="#e414e4" fill-opacity="0.85" stroke="#220022" stroke-width="1.3"/>
<circle cx="379.8" cy="343.5" r="3.9" fill="#e414e4" fill-opacity="0.85" stroke="#220022" stroke-width="1.3"/>
<circle cx="414" cy="315" r="3.9" fill="#e414e4" fill-opacity="0.85" stroke="#220022" stroke-width="1.3"/>
<circle cx="448" cy="282.6" r="3.9" fill="#e414e4" fill-opacity="0.85" stroke="#220022" stroke-width="1.3"/>
<circle cx="481.6" cy="255.8" r="3.9" fill="#e414e4" fill-opacity="0.85" stroke="#220022" stroke-width="1.3"/>
<circle cx="516.4" cy="233.3" r="3.9" fill="#e414e4" fill-opacity="0.85" stroke="#220022" stroke-width="1.3"/>
<circle cx="550.8" cy="214.8" r="3.9" fill="#e414e4" fill-opacity="0.85" stroke="#220022" stroke-width="1.3"/>
<circle cx="585.1" cy="194.6" r="3.9" fill="#e414e4" fill-opacity="0.85" stroke="#220022" stroke-width="1.3"/>
<circle cx="618.3" cy="170.3" r="3.9" fill="#e414e4" fill-opacity="0.85" stroke="#220022" stroke-width="1.3"/>
<circle cx="655.9" cy="150.6" r="3.9" fill="#e414e4" fill-opacity="0.85" stroke="#220022" stroke-width="1.3"/>
<circle cx="689.4" cy="135.9" r="3.9" fill="#e414e4" fill-opacity="0.85" stroke="#220022" stroke-width="1.3"/>
<circle cx="726.8" cy="116.1" r="3.9" fill="#e414e4" fill-opacity="0.85" stroke="#220022" stroke-width="1.3"/>
<g stroke="#2e2e2e" stroke-width="1.4" fill="none">
<rect x="137.9" y="104.4" width="228.8" height="190.2"/>
<line x1="137.9" y1="294.6" x2="137.9" y2="298.20000000000005"/>
<line x1="134.9" y1="294.6" x2="137.9" y2="294.6"/>
<line x1="176.0" y1="294.6" x2="176.0" y2="298.20000000000005"/>
<line x1="134.9" y1="262.9" x2="137.9" y2="262.9"/>
<line x1="214.2" y1="294.6" x2="214.2" y2="298.20000000000005"/>
<line x1="134.9" y1="231.2" x2="137.9" y2="231.2"/>
<line x1="252.3" y1="294.6" x2="252.3" y2="298.20000000000005"/>
<line x1="134.9" y1="199.5" x2="137.9" y2="199.5"/>
<line x1="290.4" y1="294.6" x2="290.4" y2="298.20000000000005"/>
<line x1="134.9" y1="167.8" x2="137.9" y2="167.8"/>
<line x1="328.6" y1="294.6" x2="328.6" y2="298.20000000000005"/>
<line x1="134.9" y1="136.1" x2="137.9" y2="136.1"/>
<line x1="366.7" y1="294.6" x2="366.7" y2="298.20000000000005"/>
<line x1="134.9" y1="104.4" x2="137.9" y2="104.4"/>
</g>
<g font-family="'Liberation Sans', Arial, sans-serif" font-size="10.5" font-weight="bold" fill="#1a1a1a" text-anchor="middle">
<text x="137.9" y="312.6" textLength="29.5" lengthAdjust="spacingAndGlyphs">-15000</text>
<text x="176.0" y="312.6" textLength="29.2" lengthAdjust="spacingAndGlyphs">-10000</text>
<text x="214.2" y="312.6" textLength="24.6" lengthAdjust="spacingAndGlyphs">-5000</text>
<text x="252.3" y="312.6" textLength="4.8" lengthAdjust="spacingAndGlyphs">0</text>
<text x="290.4" y="312.6" textLength="21.1" lengthAdjust="spacingAndGlyphs">5000</text>
<text x="328.6" y="312.6" textLength="26.3" lengthAdjust="spacingAndGlyphs">10000</text>
<text x="366.7" y="312.6" textLength="26.0" lengthAdjust="spacingAndGlyphs">15000</text>
</g>
<g font-family="'Liberation Sans', Arial, sans-serif" font-size="10.5" font-weight="bold" fill="#1a1a1a" text-anchor="end">
<text x="130.3" y="298.4">-0.3</text>
<text x="130.3" y="266.7">-0.2</text>
<text x="130.3" y="235.0">-0.1</text>
<text x="130.3" y="203.3">0.0</text>
<text x="130.3" y="171.6">0.1</text>
<text x="130.3" y="139.9">0.2</text>
<text x="130.3" y="108.2">0.3</text>
</g>
<text x="252.5" y="332.4" font-family="'Liberation Serif', 'Times New Roman', serif" font-size="14.5" font-weight="bold" fill="#111" stroke="#111" stroke-width="0.4" text-anchor="middle" textLength="36" lengthAdjust="spacingAndGlyphs">H(Oe)</text>
<text transform="translate(106.2,199) rotate(-90)" font-family="'Liberation Serif', 'Times New Roman', serif" font-size="13.5" font-weight="bold" fill="#111" stroke="#111" stroke-width="0.3" text-anchor="middle" textLength="62" lengthAdjust="spacingAndGlyphs">M(emu/g)</text>
<g fill="#1c1cc4" stroke="#05052a" stroke-width="0.9">
<rect x="326.0" y="136.4" width="4" height="4"/>
<rect x="322.1" y="137.6" width="4" height="4"/>
<rect x="318.1" y="138.8" width="4" height="4"/>
<rect x="314.2" y="140.1" width="4" height="4"/>
<rect x="310.3" y="141.4" width="4" height="4"/>
<rect x="306.4" y="142.9" width="4" height="4"/>
<rect x="302.4" y="144.4" width="4" height="4"/>
<rect x="298.6" y="145.9" width="4" height="4"/>
<rect x="294.7" y="147.4" width="4" height="4"/>
<rect x="290.8" y="148.7" width="4" height="4"/>
<rect x="286.8" y="149.9" width="4" height="4"/>
<rect x="282.9" y="151.0" width="4" height="4"/>
<rect x="278.9" y="152.4" width="4" height="4"/>
<rect x="275.1" y="153.9" width="4" height="4"/>
<rect x="271.2" y="155.8" width="4" height="4"/>
<rect x="267.4" y="157.8" width="4" height="4"/>
<rect x="263.6" y="159.7" width="4" height="4"/>
<rect x="259.7" y="161.6" width="4" height="4"/>
<rect x="255.9" y="163.6" width="4" height="4"/>
<rect x="252.3" y="166.2" width="4" height="4"/>
<rect x="249.2" y="170.6" width="4" height="4"/>
<rect x="246.8" y="175.8" width="4" height="4"/>
<rect x="244.6" y="181.4" width="4" height="4"/>
<rect x="242.2" y="186.7" width="4" height="4"/>
<rect x="239.6" y="191.8" width="4" height="4"/>
<rect x="237.4" y="197.4" width="4" height="4"/>
<rect x="235.2" y="203.0" width="4" height="4"/>
<rect x="233.0" y="208.5" width="4" height="4"/>
<rect x="230.6" y="213.8" width="4" height="4"/>
<rect x="227.7" y="218.4" width="4" height="4"/>
<rect x="224.7" y="222.9" width="4" height="4"/>
<rect x="221.7" y="227.1" width="4" height="4"/>
<rect x="218.4" y="230.9" width="4" height="4"/>
<rect x="214.9" y="234.3" width="4" height="4"/>
<rect x="211.6" y="238.1" width="4" height="4"/>
<rect x="208.1" y="241.3" width="4" height="4"/>
<rect x="204.4" y="243.8" width="4" height="4"/>
<rect x="200.7" y="246.0" width="4" height="4"/>
<rect x="196.8" y="248.2" width="4" height="4"/>
<rect x="193.1" y="250.3" width="4" height="4"/>
<rect x="189.3" y="252.6" width="4" height="4"/>
<rect x="185.6" y="254.9" width="4" height="4"/>
<rect x="181.8" y="257.1" width="4" height="4"/>
<rect x="178.0" y="259.4" width="4" height="4"/>
<rect x="174.3" y="261.9" width="4" height="4"/>
<rect x="173.7" y="262.3" width="4" height="4"/>
<rect x="177.6" y="260.4" width="4" height="4"/>
<rect x="181.4" y="258.5" width="4" height="4"/>
<rect x="185.3" y="256.7" width="4" height="4"/>
<rect x="189.1" y="254.8" width="4" height="4"/>
<rect x="192.9" y="253.1" width="4" height="4"/>
<rect x="196.8" y="251.7" width="4" height="4"/>
<rect x="200.8" y="250.5" width="4" height="4"/>
<rect x="204.7" y="249.3" width="4" height="4"/>
<rect x="208.7" y="248.2" width="4" height="4"/>
<rect x="212.6" y="246.9" width="4" height="4"/>
<rect x="216.5" y="245.6" width="4" height="4"/>
<rect x="220.5" y="244.2" width="4" height="4"/>
<rect x="224.3" y="242.7" width="4" height="4"/>
<rect x="228.2" y="241.1" width="4" height="4"/>
<rect x="232.1" y="239.3" width="4" height="4"/>
<rect x="235.8" y="237.1" width="4" height="4"/>
<rect x="239.6" y="234.8" width="4" height="4"/>
<rect x="243.3" y="232.4" width="4" height="4"/>
<rect x="246.9" y="229.6" width="4" height="4"/>
<rect x="249.9" y="225.1" width="4" height="4"/>
<rect x="252.3" y="219.8" width="4" height="4"/>
<rect x="254.5" y="214.2" width="4" height="4"/>
<rect x="256.8" y="208.8" width="4" height="4"/>
<rect x="259.0" y="203.3" width="4" height="4"/>
<rect x="261.2" y="197.6" width="4" height="4"/>
<rect x="263.5" y="192.2" width="4" height="4"/>
<rect x="266.2" y="187.3" width="4" height="4"/>
<rect x="269.1" y="182.7" width="4" height="4"/>
<rect x="271.6" y="177.5" width="4" height="4"/>
<rect x="274.6" y="172.9" width="4" height="4"/>
<rect x="277.7" y="168.9" width="4" height="4"/>
<rect x="281.0" y="165.0" width="4" height="4"/>
<rect x="284.3" y="161.2" width="4" height="4"/>
<rect x="287.6" y="157.6" width="4" height="4"/>
<rect x="291.2" y="154.6" width="4" height="4"/>
<rect x="295.0" y="152.3" width="4" height="4"/>
<rect x="298.8" y="150.4" width="4" height="4"/>
<rect x="302.6" y="148.6" width="4" height="4"/>
<rect x="306.5" y="146.9" width="4" height="4"/>
<rect x="310.4" y="145.1" width="4" height="4"/>
<rect x="314.1" y="143.0" width="4" height="4"/>
<rect x="317.9" y="140.8" width="4" height="4"/>
<rect x="321.7" y="138.8" width="4" height="4"/>
<rect x="325.5" y="136.6" width="4" height="4"/>
<rect x="267.8" y="157.6" width="4" height="4"/>
<rect x="267.0" y="158.1" width="4" height="4"/>
<rect x="266.1" y="158.5" width="4" height="4"/>
<rect x="265.2" y="159.0" width="4" height="4"/>
<rect x="264.2" y="159.4" width="4" height="4"/>
<rect x="263.3" y="159.8" width="4" height="4"/>
<rect x="262.5" y="160.3" width="4" height="4"/>
<rect x="261.6" y="160.7" width="4" height="4"/>
<rect x="260.7" y="161.1" width="4" height="4"/>
<rect x="259.7" y="161.6" width="4" height="4"/>
<rect x="258.9" y="162.0" width="4" height="4"/>
<rect x="258.0" y="162.5" width="4" height="4"/>
<rect x="257.1" y="163.0" width="4" height="4"/>
<rect x="256.2" y="163.5" width="4" height="4"/>
<rect x="232.2" y="239.2" width="4" height="4"/>
<rect x="233.1" y="238.7" width="4" height="4"/>
<rect x="233.9" y="238.2" width="4" height="4"/>
<rect x="234.8" y="237.7" width="4" height="4"/>
<rect x="235.7" y="237.2" width="4" height="4"/>
<rect x="236.5" y="236.7" width="4" height="4"/>
<rect x="237.4" y="236.2" width="4" height="4"/>
<rect x="238.2" y="235.7" width="4" height="4"/>
<rect x="239.1" y="235.1" width="4" height="4"/>
<rect x="239.9" y="234.6" width="4" height="4"/>
<rect x="240.8" y="234.1" width="4" height="4"/>
<rect x="241.6" y="233.5" width="4" height="4"/>
<rect x="242.4" y="233.0" width="4" height="4"/>
<rect x="243.3" y="232.4" width="4" height="4"/>
<rect x="240.7" y="189.6" width="4" height="4"/>
<rect x="240.3" y="190.5" width="4" height="4"/>
<rect x="239.9" y="191.4" width="4" height="4"/>
<rect x="239.4" y="192.3" width="4" height="4"/>
<rect x="239.1" y="193.2" width="4" height="4"/>
<rect x="238.7" y="194.1" width="4" height="4"/>
<rect x="238.3" y="195.1" width="4" height="4"/>
<rect x="238.0" y="196.0" width="4" height="4"/>
<rect x="237.6" y="197.0" width="4" height="4"/>
<rect x="237.2" y="197.9" width="4" height="4"/>
<rect x="256.5" y="209.5" width="4" height="4"/>
<rect x="256.9" y="208.6" width="4" height="4"/>
<rect x="257.3" y="207.6" width="4" height="4"/>
<rect x="257.7" y="206.7" width="4" height="4"/>
<rect x="258.0" y="205.8" width="4" height="4"/>
<rect x="258.4" y="204.9" width="4" height="4"/>
<rect x="258.8" y="203.9" width="4" height="4"/>
<rect x="259.1" y="203.0" width="4" height="4"/>
<rect x="259.5" y="202.1" width="4" height="4"/>
<rect x="259.8" y="201.1" width="4" height="4"/>
</g>
<g stroke="#2e2e2e" stroke-width="1.4" fill="none">
<rect x="438.6" y="362.8" width="282.5" height="228.5"/>
<line x1="438.6" y1="591.3" x2="438.6" y2="594.6999999999999"/>
<line x1="470.0" y1="591.3" x2="470.0" y2="594.6999999999999"/>
<line x1="501.4" y1="591.3" x2="501.4" y2="594.6999999999999"/>
<line x1="532.8" y1="591.3" x2="532.8" y2="594.6999999999999"/>
<line x1="564.2" y1="591.3" x2="564.2" y2="594.6999999999999"/>
<line x1="595.5" y1="591.3" x2="595.5" y2="594.6999999999999"/>
<line x1="626.9" y1="591.3" x2="626.9" y2="594.6999999999999"/>
<line x1="658.3" y1="591.3" x2="658.3" y2="594.6999999999999"/>
<line x1="689.7" y1="591.3" x2="689.7" y2="594.6999999999999"/>
<line x1="721.1" y1="591.3" x2="721.1" y2="594.6999999999999"/>
<line x1="435.40000000000003" y1="591.3" x2="438.6" y2="591.3"/>
<line x1="435.40000000000003" y1="553.2" x2="438.6" y2="553.2"/>
<line x1="435.40000000000003" y1="515.1" x2="438.6" y2="515.1"/>
<line x1="435.40000000000003" y1="477.1" x2="438.6" y2="477.1"/>
<line x1="435.40000000000003" y1="439.0" x2="438.6" y2="439.0"/>
<line x1="435.40000000000003" y1="400.9" x2="438.6" y2="400.9"/>
<line x1="435.40000000000003" y1="362.8" x2="438.6" y2="362.8"/>
</g>
<g font-family="'Liberation Sans', Arial, sans-serif" font-size="10.5" font-weight="bold" fill="#1a1a1a" text-anchor="middle">
<text x="438.6" y="608.6" textLength="27.5" lengthAdjust="spacingAndGlyphs">8.0e-9</text>
<text x="470.0" y="608.6" textLength="27.5" lengthAdjust="spacingAndGlyphs">1.0e-8</text>
<text x="501.4" y="608.6" textLength="27.5" lengthAdjust="spacingAndGlyphs">1.2e-8</text>
<text x="532.8" y="608.6" textLength="27.5" lengthAdjust="spacingAndGlyphs">1.4e-8</text>
<text x="564.2" y="608.6" textLength="27.5" lengthAdjust="spacingAndGlyphs">1.6e-8</text>
<text x="595.5" y="608.6" textLength="27.5" lengthAdjust="spacingAndGlyphs">1.8e-8</text>
<text x="626.9" y="608.6" textLength="27.5" lengthAdjust="spacingAndGlyphs">2.0e-8</text>
<text x="658.3" y="608.6" textLength="27.5" lengthAdjust="spacingAndGlyphs">2.2e-8</text>
<text x="689.7" y="608.6" textLength="27.5" lengthAdjust="spacingAndGlyphs">2.4e-8</text>
<text x="721.1" y="608.6" textLength="27.5" lengthAdjust="spacingAndGlyphs">2.6e-8</text>
</g>
<g font-family="'Liberation Sans', Arial, sans-serif" font-size="10.5" font-weight="bold" fill="#1a1a1a" text-anchor="end">
<text x="430.7" y="594.6" textLength="18.6" lengthAdjust="spacingAndGlyphs">0.14</text>
<text x="430.7" y="556.5" textLength="18.6" lengthAdjust="spacingAndGlyphs">0.15</text>
<text x="430.7" y="518.4" textLength="18.6" lengthAdjust="spacingAndGlyphs">0.16</text>
<text x="430.7" y="480.4" textLength="18.6" lengthAdjust="spacingAndGlyphs">0.17</text>
<text x="430.7" y="442.3" textLength="18.6" lengthAdjust="spacingAndGlyphs">0.18</text>
<text x="430.7" y="404.2" textLength="18.6" lengthAdjust="spacingAndGlyphs">0.19</text>
<text x="430.7" y="366.1" textLength="18.6" lengthAdjust="spacingAndGlyphs">0.20</text>
</g>
<line x1="438.6" y1="378.8" x2="708.3" y2="591.3" stroke="#222" stroke-width="1.1"/>
<g fill="#900c20" stroke="#3a0008" stroke-width="0.8" stroke-linejoin="round">
<path d="M473.2 390.59999999999997 L475.8 393.2 L473.2 395.8 L470.59999999999997 393.2 Z"/>
<path d="M487.2 406.7 L489.8 409.3 L487.2 411.90000000000003 L484.59999999999997 409.3 Z"/>
<path d="M509 434.09999999999997 L511.6 436.7 L509 439.3 L506.4 436.7 Z"/>
<path d="M532.8 453.9 L535.4 456.5 L532.8 459.1 L530.1999999999999 456.5 Z"/>
<path d="M564 478.59999999999997 L566.6 481.2 L564 483.8 L561.4 481.2 Z"/>
<path d="M598.4 508.9 L601.0 511.5 L598.4 514.1 L595.8 511.5 Z"/>
<path d="M641.5 538.3 L644.1 540.9 L641.5 543.5 L638.9 540.9 Z"/>
<path d="M694.4 564.6 L697.0 567.2 L694.4 569.8000000000001 L691.8 567.2 Z"/>
</g>
<g font-family="'Liberation Serif', 'Times New Roman', serif" font-weight="bold" fill="#111">
<g font-size="18.5" stroke="#111" stroke-width="0.15">
<text x="552.5" y="410.8" textLength="8.2" lengthAdjust="spacingAndGlyphs">y</text>
<text x="565.3" y="410.8" textLength="9.2" lengthAdjust="spacingAndGlyphs">=</text>
<text x="578.5" y="410.8" textLength="59.3" lengthAdjust="spacingAndGlyphs">-3E+06x</text>
<text x="641.9" y="410.8" textLength="8.7" lengthAdjust="spacingAndGlyphs">+</text>
<text x="654.1" y="410.8" textLength="37.3" lengthAdjust="spacingAndGlyphs">0.222</text>
<text x="586.1" y="431.6" textLength="12.8" lengthAdjust="spacingAndGlyphs">R</text>
<text x="607" y="431.6" textLength="9.2" lengthAdjust="spacingAndGlyphs">=</text>
<text x="620.8" y="431.6" textLength="37.7" lengthAdjust="spacingAndGlyphs">0.982</text>
<text x="599.2" y="424.2" font-size="8.5" textLength="3" lengthAdjust="spacingAndGlyphs">2</text>
</g>
<g stroke="#111" stroke-width="0.3">
<text x="547.7" y="635.9" font-size="17" textLength="11.2" lengthAdjust="spacingAndGlyphs">H</text>
<text x="559.3" y="630.3" font-size="10" textLength="3.1" lengthAdjust="spacingAndGlyphs">-</text>
<text x="563.9" y="630.6" font-size="16" textLength="8" lengthAdjust="spacingAndGlyphs">2</text>
<text x="571.1" y="636.2" font-size="16.5" textLength="5" lengthAdjust="spacingAndGlyphs">(</text>
<text x="577.8" y="635.8" font-size="17" textLength="15.9" lengthAdjust="spacingAndGlyphs">Oe</text>
<text x="595" y="630.3" font-size="10" textLength="3.8" lengthAdjust="spacingAndGlyphs">-</text>
<text x="600" y="630.4" font-size="16" textLength="7.5" lengthAdjust="spacingAndGlyphs">2</text>
<text x="607.1" y="636.2" font-size="16.5" textLength="5.8" lengthAdjust="spacingAndGlyphs">)</text>
</g>
<text transform="translate(394.6,476) rotate(-90)" font-size="14.5" text-anchor="middle" textLength="70" lengthAdjust="spacingAndGlyphs">M(emu/g)</text>
</g>
</svg></body></html>
